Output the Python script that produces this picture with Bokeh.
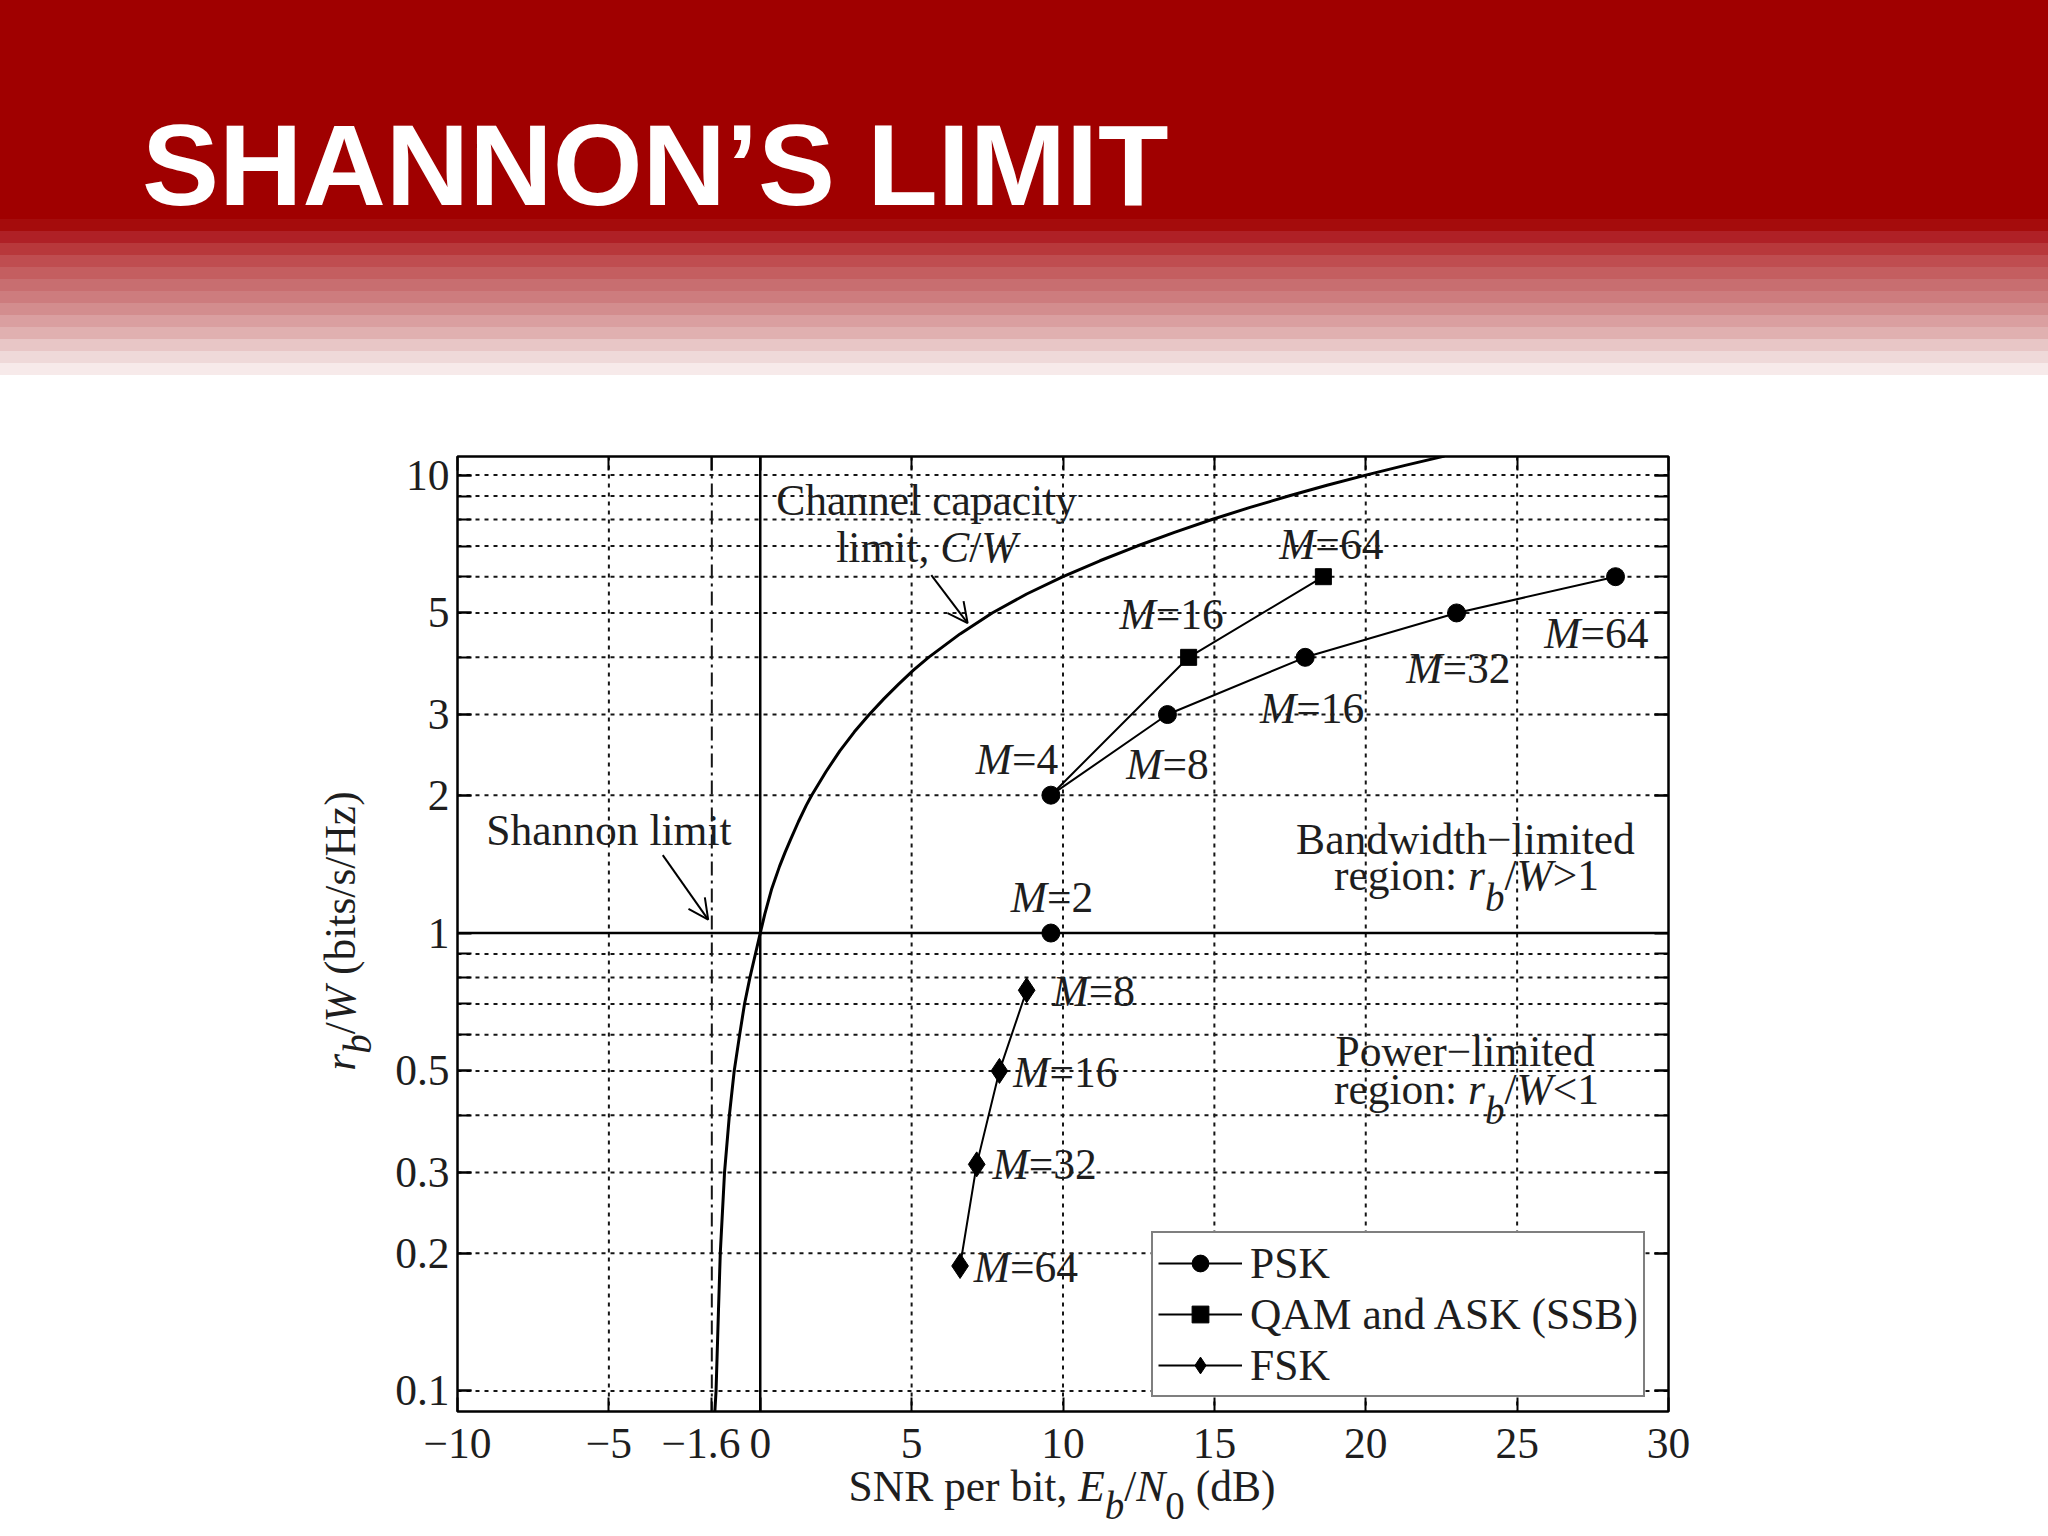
from bokeh.plotting import figure
from bokeh.models import (Range1d, FixedTicker, CustomJSTickFormatter, LogAxis, LinearAxis,
                          Span, Arrow, OpenHead, Legend, LegendItem, ColumnDataSource, Div)
from bokeh.layouts import column, row
from bokeh.core.properties import value
from bokeh.embed import file_html
from bokeh.resources import INLINE

# ---------------- data ----------------
x_ticks = [-10, -5, -1.6, 0, 5, 10, 15, 20, 25, 30]
y_ticks = [0.1, 0.2, 0.3, 0.5, 1, 2, 3, 5, 10]
y_grid = [0.1, 0.2, 0.3, 0.4, 0.5, 0.6, 0.7, 0.8, 0.9, 2, 3, 4, 5, 6, 7, 8, 9, 10]
x_grid = [-5, 5, 10, 15, 20, 25]
shannon_limit_db = -1.6

# channel capacity limit C/W (bits/s/Hz) against Eb/N0 (dB)
cap_r = [0.09, 0.1, 0.15, 0.2, 0.3, 0.4, 0.5, 0.6, 0.7, 0.8, 0.9, 1.0, 1.1, 1.25, 1.4, 1.5,
         1.6, 1.75, 1.9, 2.0, 2.25, 2.5, 2.75, 3.0, 3.25, 3.5, 3.75, 4.0, 4.5, 5.0, 5.5, 6.0,
         6.5, 7.0, 7.5, 8.0, 8.5, 9.0, 9.5, 10.0, 10.5, 11.0]
cap_db = [-1.50, -1.46, -1.38, -1.32, -1.18, -1.02, -0.86, -0.68, -0.52, -0.34, -0.16, 0.0,
          0.15, 0.38, 0.64, 0.82, 1.00, 1.26, 1.52, 1.70, 2.17, 2.63, 3.11, 3.60, 4.09, 4.58,
          5.06, 5.56, 6.60, 7.66, 8.80, 10.00, 11.22, 12.45, 13.68, 14.92, 16.18, 17.45,
          18.72, 20.00, 21.30, 22.60]

psk_m = [2, 4, 8, 16, 32, 64]
psk_snr = [9.6, 9.6, 13.45, 18.0, 23.0, 28.25]
psk_r = [1, 2, 3, 4, 5, 6]

qam_m = [4, 16, 64]
qam_snr = [9.6, 14.15, 18.6]
qam_r = [2, 4, 6]

fsk_m = [8, 16, 32, 64]
fsk_snr = [8.8, 7.9, 7.15, 6.6]
fsk_r = [0.75, 0.5, 0.3125, 0.1875]

# ---------------- style ----------------
SERIF = "Liberation Serif"
TXT = "#1e1e1e"
FS = 43.5
SUB = 39

ROMAN = {' ': 250, '(': 333, ')': 333, ',': 250, '.': 250, '/': 278, ':': 278, '=': 564,
         '>': 564, '<': 564, '\u2212': 564,
         'A': 722, 'B': 667, 'C': 667, 'D': 722, 'E': 611, 'H': 722, 'K': 722, 'L': 611,
         'M': 889, 'N': 722, 'P': 556, 'Q': 722, 'R': 667, 'S': 556, 'W': 944,
         'a': 444, 'b': 500, 'c': 444, 'd': 500, 'e': 444, 'g': 500, 'h': 500, 'i': 278,
         'l': 278, 'm': 778, 'n': 500, 'o': 500, 'p': 500, 'r': 333, 's': 389, 't': 278,
         'w': 722, 'y': 500, 'z': 444}
ITALIC = {'M': 833, 'E': 611, 'N': 667, 'C': 667, 'W': 833, 'r': 389, 'b': 500}


def tw(txt, ital, fs):
    tab = ITALIC if ital else ROMAN
    return sum(tab.get(c, ROMAN.get(c, 500)) for c in txt) * fs / 1000.0


W_ALL = 2032
HDR_W = 2048
HDR_H = 380
YLAB_W = 388
P_W = W_ALL - YLAB_W
P_H = 1091
XLAB_H = 49

# ---------------- header (HTML) ----------------
band_colors = ["#A50C0C", "#AF2026", "#B8383B", "#BF4D50", "#C45E60", "#C86E70", "#CD7C7E",
               "#D38D8E", "#DA9FA0", "#E0B0B0", "#E8C6C6", "#EFD9D9", "#F7EAEA"]
stops = ["#A00000 0px", "#A00000 219px"]
t = 219.0
for c in band_colors:
    stops.append(f"{c} {t:.1f}px")
    stops.append(f"{c} {t + 12.0:.1f}px")
    t += 12.0
stops.append(f"#FFFFFF {t:.1f}px")
stops.append("#FFFFFF 100%")
grad = "linear-gradient(to bottom, " + ", ".join(stops) + ")"
hdr_html = (
    f'<div style="position:relative;width:{HDR_W}px;height:{HDR_H}px;background:{grad};">'
    '<div style="position:absolute;left:142px;top:164.8px;line-height:0;white-space:nowrap;'
    "font-family:'Liberation Sans';font-weight:bold;font-size:115.5px;color:#FFFFFF;\">"
    'SHANNON\u2019S LIMIT</div></div>'
)
hdr = Div(text=hdr_html, width=HDR_W, height=HDR_H, margin=0, styles={"overflow": "visible"})

# ---------------- main plot ----------------
p = figure(width=P_W, height=P_H, x_range=Range1d(-10, 30), y_range=Range1d(0.0902, 10.98),
           y_axis_type="log", toolbar_location=None, output_backend="svg",
           min_border_left=457 - YLAB_W, min_border_right=P_W - (457 - YLAB_W) - 1211,
           min_border_top=76, min_border_bottom=P_H - 76 - 955)
p.background_fill_color = "white"
p.border_fill_color = "white"
p.outline_line_color = "black"
p.outline_line_width = 2.5
p.xgrid.visible = False
p.ygrid.visible = False

neg_fmt = CustomJSTickFormatter(code="""
if (Math.abs(tick + 1.6) < 1e-9) { return '\\u22121.6\\u00a0\\u00a0'; }
return String(tick).replace('-', '\\u2212');
""")
plain_fmt = CustomJSTickFormatter(code="return String(tick);")
empty_fmt = CustomJSTickFormatter(code="return '';")


def style_axis(ax):
    ax.axis_line_color = None
    ax.major_tick_in = 14
    ax.major_tick_out = 0
    ax.minor_tick_in = 14
    ax.minor_tick_out = 0
    ax.major_tick_line_width = 2
    ax.minor_tick_line_width = 2
    ax.major_tick_line_color = "black"
    ax.minor_tick_line_color = "black"
    ax.major_label_text_font = SERIF
    ax.major_label_text_font_size = f"{FS}px"
    ax.major_label_text_color = TXT


xa = p.xaxis[0]
xa.ticker = FixedTicker(ticks=x_ticks, minor_ticks=[])
xa.formatter = neg_fmt
style_axis(xa)
xa.major_label_standoff = 7

ya = p.yaxis[0]
ya.ticker = FixedTicker(ticks=y_ticks, minor_ticks=y_grid)
ya.formatter = plain_fmt
style_axis(ya)
ya.major_label_standoff = 8

ra = LogAxis(ticker=FixedTicker(ticks=y_ticks, minor_ticks=y_grid), formatter=empty_fmt)
style_axis(ra)
p.add_layout(ra, "right")
ta = LinearAxis(ticker=FixedTicker(ticks=x_ticks, minor_ticks=[]), formatter=empty_fmt)
style_axis(ta)
p.add_layout(ta, "above")

# grid lines
GRID_C = "#151515"
for v in x_grid:
    p.add_layout(Span(location=v, dimension="height", line_color=GRID_C, line_width=2,
                      line_dash="4 5", level="underlay"))
p.add_layout(Span(location=shannon_limit_db, dimension="height", line_color=GRID_C,
                  line_width=2, line_dash="14 5 3 5", level="underlay"))
p.add_layout(Span(location=0, dimension="height", line_color="black", line_width=2.5,
                  level="underlay"))
for v in y_grid:
    p.add_layout(Span(location=v, dimension="width", line_color=GRID_C, line_width=2,
                      line_dash="4 5", level="underlay"))
p.add_layout(Span(location=1, dimension="width", line_color="black", line_width=2.5,
                  level="underlay"))

# curves and points
p.line(cap_db, cap_r, line_color="black", line_width=3)

psk_line = p.line(psk_snr[1:], psk_r[1:], line_color="black", line_width=2)
psk_pts = p.scatter(psk_snr, psk_r, marker="circle", size=18, fill_color="black",
                    line_color="black")
qam_line = p.line(qam_snr, qam_r, line_color="black", line_width=2)
qam_pts = p.scatter(qam_snr[1:], qam_r[1:], marker="square", size=16, fill_color="black",
                    line_color="black")
fsk_line = p.line(fsk_snr, fsk_r, line_color="black", line_width=2)
fsk_pts = p.scatter(fsk_snr, fsk_r, marker="diamond", size=25, fill_color="black",
                    line_color="black")

# M labels: offsets in screen px from each point (dx right, dy up)
psk_dx = [-4, -39, -5, -9, -14, -35]
psk_dy = [36, 36, -49, -51, -55, -56]
qam_dx = [-33, -8]
qam_dy = [43, 33]
fsk_dx = [62, 50, 52, 50]
fsk_dy = [-1, -1, 0, -1]


def m_labels(xs, ys, ms, dx, dy):
    src = ColumnDataSource(dict(x=xs, y=ys, a=["M"] * len(xs), b=[f"={m}" for m in ms],
                                dx=dx, dy=[-d for d in dy]))
    p.text(x="x", y="y", text="a", x_offset="dx", y_offset="dy", source=src,
           text_align="right", text_baseline="middle", text_font=value(SERIF),
           text_font_style="italic", text_font_size=f"{FS}px", text_color=TXT)
    p.text(x="x", y="y", text="b", x_offset="dx", y_offset="dy", source=src,
           text_align="left", text_baseline="middle", text_font=value(SERIF),
           text_font_size=f"{FS}px", text_color=TXT)


m_labels(psk_snr, psk_r, psk_m, psk_dx, psk_dy)
m_labels(qam_snr[1:], qam_r[1:], qam_m[1:], qam_dx, qam_dy)
m_labels(fsk_snr, fsk_r, fsk_m, fsk_dx, fsk_dy)


def rich(x, y, parts, sub_shift=22):
    off = 0.0
    for txt, ital, sub in parts:
        fs = SUB if sub else FS
        lead = len(txt) - len(txt.lstrip(' '))
        shown = txt.strip(' ')
        p.text(x=[x], y=[y], text=[shown], x_offset=off + tw(' ' * lead, False, fs),
               y_offset=sub_shift if sub else 0, text_font=value(SERIF),
               text_font_size=f"{fs}px", text_font_style="italic" if ital else "normal",
               text_align="left", text_baseline="alphabetic", text_color=TXT)
        off += tw(txt, ital, fs)


N, I = False, True
rich(0.53, 8.82, [("Channel capacity", N, False)])
rich(2.51, 6.96, [("limit, ", N, False), ("C", I, False), ("/", N, False), ("W", I, False)])
rich(-9.05, 1.682, [("Shannon limit", N, False)])
rich(17.70, 1.605, [("Bandwidth\u2212limited", N, False)])
rich(18.95, 1.336, [("region: ", N, False), ("r", I, False), ("b", I, True), ("/", N, False),
                    ("W", I, False), (">1", N, False)])
rich(19.0, 0.553, [("Power\u2212limited", N, False)])
rich(18.95, 0.457, [("region: ", N, False), ("r", I, False), ("b", I, True), ("/", N, False),
                    ("W", I, False), ("<1", N, False)])

# arrows
arrows = [(5.65, 6.05, 6.85, 4.75), (-3.22, 1.48, -1.72, 1.07)]
for xs, ys, xe, ye in arrows:
    p.add_layout(Arrow(end=OpenHead(size=20, line_width=2, line_color="black"),
                       x_start=xs, y_start=ys, x_end=xe, y_end=ye,
                       line_width=2, line_color="black"))

# legend
legend = Legend(items=[LegendItem(label="PSK", renderers=[psk_line, psk_pts]),
                       LegendItem(label="QAM and ASK (SSB)", renderers=[qam_line, qam_pts]),
                       LegendItem(label="FSK", renderers=[fsk_line, fsk_pts])],
                location=(694, 14))
legend.label_text_font = SERIF
legend.label_text_font_size = f"{FS}px"
legend.label_text_color = TXT
legend.glyph_width = 84
legend.glyph_height = 42
legend.label_height = 42
legend.spacing = 1
legend.padding = 5
legend.margin = 0
legend.label_standoff = 8
legend.border_line_color = "black"
legend.border_line_width = 2.5
legend.background_fill_color = "white"
legend.background_fill_alpha = 1.0
p.add_layout(legend)

# ---------------- axis titles (HTML, real text with italics and subscripts) ----------------
font_css = f"font-family:'{SERIF}';font-size:{FS}px;color:{TXT};line-height:0;white-space:nowrap;"
sub_css = f"position:relative;top:18px;font-size:{SUB}px;line-height:0;"

ylab_html = (
    f'<div style="position:relative;width:{YLAB_W}px;height:{P_H}px;">'
    f'<div style="position:absolute;left:340.3px;top:551px;{font_css}'
    'transform:translate(-50%,0) rotate(-90deg);transform-origin:50% 0;">'
    f'<i>r</i><span style="{sub_css}top:16px;"><i>b</i></span>/<i>W</i> (bits/s/Hz)'
    '</div></div>'
)
ylab = Div(text=ylab_html, width=YLAB_W, height=P_H, margin=0, styles={"overflow": "visible"})

xlab_html = (
    f'<div style="position:relative;width:{W_ALL}px;height:{XLAB_H}px;">'
    f'<div style="position:absolute;left:1062px;top:15.3px;{font_css}'
    'transform:translate(-50%,0);">'
    f'SNR per bit, <i>E</i><span style="{sub_css}"><i>b</i></span>/<i>N</i>'
    f'<span style="{sub_css}">0</span> (dB)'
    '</div></div>'
)
xlab = Div(text=xlab_html, width=W_ALL, height=XLAB_H, margin=0, styles={"overflow": "visible"})

layout = column(hdr, row(ylab, p, spacing=0), xlab, spacing=0)
open("out.html", "w").write(file_html(layout, INLINE))
